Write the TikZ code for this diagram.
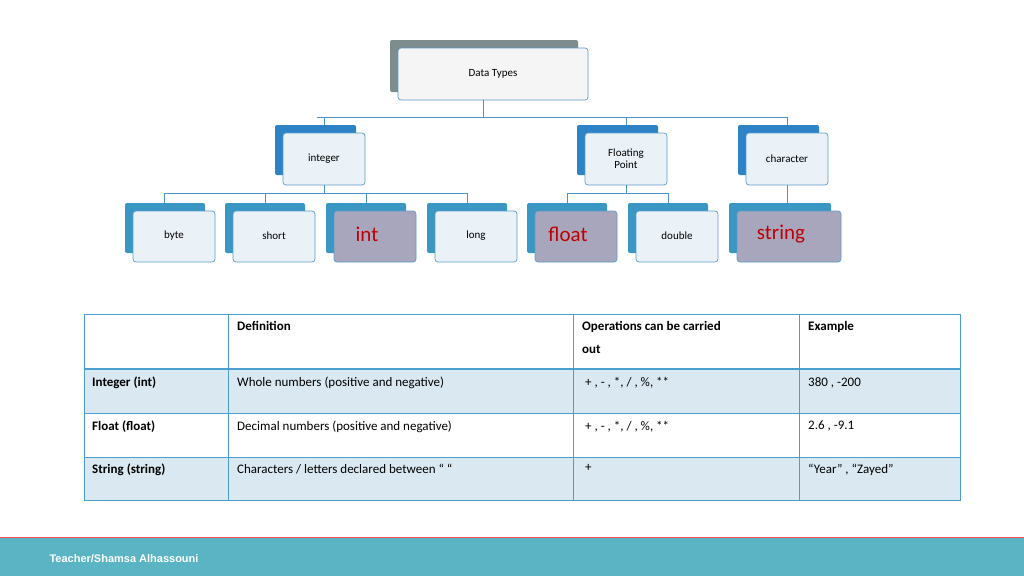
\documentclass[tikz,border=0pt]{standalone}
\usepackage{fontspec}
\setmainfont{Carlito}
\newfontfamily\footfont{Liberation Sans}
\definecolor{bk}{HTML}{2E83C6}
\definecolor{bk3}{HTML}{3A96C2}
\definecolor{fr}{HTML}{EAF2F8}
\definecolor{frb}{HTML}{5A9CC8}
\definecolor{hl}{HTML}{A8A6BC}
\definecolor{tb}{HTML}{4A9FD0}
\definecolor{rowb}{HTML}{DAE9F1}
\definecolor{ft}{HTML}{5AB4C4}
\definecolor{ln}{HTML}{4A92C8}
\begin{document}
\begin{tikzpicture}[x=1pt,y=-1pt,
  back/.style={fill=#1,rounded corners=2pt},
  front/.style={fill=fr,draw=frb,rounded corners=3pt,line width=0.7pt},
  hfront/.style={fill=hl,draw=frb,rounded corners=3pt,line width=0.7pt},
  lbl/.style={font=\fontsize{11}{12}\selectfont,align=center},
  big/.style={font=\fontsize{21}{22}\selectfont,text=red!75!black},
  conn/.style={draw=ln,line width=0.8pt},
  cell/.style={anchor=north west,font=\fontsize{13}{15}\selectfont,align=left,inner sep=0pt}]
\useasboundingbox (0,0) rectangle (1024,576);
% root
\fill[back=gray!60!teal!50!black!60] (390,40) rectangle (578,92);
\draw[front,fill=gray!8] (398,48) rectangle (588,100);
\node[lbl] (root) at (493,74) {Data Types};
% level 2
\foreach \n/\x/\t in {integ/275/integer,flt/577/{Floating\\Point},chr/738/character}{
  \fill[back=bk] (\x,125) rectangle ++(81,50);
  \draw[front] (\x+8,133) rectangle ++(82,52);
  \node[lbl] (\n) at (\x+49,159) {\t};
}
% level 3
\foreach \n/\x/\t in {byte/125/byte,short/225/short,long/427/long,double/628/double}{
  \fill[back=bk3] (\x,203) rectangle ++(80,50);
  \draw[front] (\x+8,211) rectangle ++(82,51);
  \node[lbl] (\n) at (\x+49,236) {\t};
}
\foreach \n/\x/\t/\w in {int/326/int/82,float/527/float/82,string/729/string/104}{
  \fill[back=bk3] (\x,203) rectangle ++(\w-2,50);
  \draw[hfront] (\x+8,211) rectangle ++(\w,51);
  \node[big] (\n) at (\x+8+\w/2-8,234) {\t};
}
% connectors
\draw[conn] (483,100) -- (483,117) (317,117) -- (787,117)
  (324,117) -- (324,125) (626,117) -- (626,125) (787,117) -- (787,125);
\draw[conn] (324,185) -- (324,193) (164,193) -- (467,193)
  \foreach \x in {164,265,366,467}{(\x,193) -- (\x,203)};
\draw[conn] (626,185) -- (626,193) (567,193) -- (668,193)
  (567,193) -- (567,203) (668,193) -- (668,203);
\draw[conn] (787,185) -- (787,203);
% table
\fill[rowb] (84,369) rectangle (960,413);
\fill[rowb] (84,457) rectangle (960,500);
\draw[tb,line width=0.8pt] (84,314) rectangle (960,500);
\draw[tb,line width=1.2pt] (84,369) -- (960,369);
\draw[tb,line width=0.8pt] (84,413) -- (960,413) (84,457) -- (960,457)
  (228,314) -- (228,500) (573,314) -- (573,500) (799,314) -- (799,500);
\node[cell,font=\fontsize{13}{17}\selectfont\bfseries] (h1) at (237,321) {Definition};
\node[cell,font=\fontsize{13}{23}\selectfont\bfseries] (h2) at (582,321) {Operations can be carried\\out};
\node[cell,font=\fontsize{13}{17}\selectfont\bfseries] (h3) at (808,321) {Example};
\node[cell,font=\fontsize{13}{15}\selectfont\bfseries] (r1) at (92,377) {Integer (int)};
\node[cell] (r1a) at (237,377) {Whole numbers (positive and negative)};
\node[cell] (r1b) at (585,377) {+ , - , *, / , \%, **};
\node[cell] (r1c) at (808,377) {380 , -200};
\node[cell,font=\fontsize{13}{15}\selectfont\bfseries] (r2) at (92,421) {Float (float)};
\node[cell] (r2a) at (237,421) {Decimal numbers (positive and negative)};
\node[cell] (r2b) at (585,421) {+ , - , *, / , \%, **};
\node[cell] (r2c) at (808,421) {2.6 , -9.1};
\node[cell,font=\fontsize{13}{15}\selectfont\bfseries] (r3) at (92,464) {String (string)};
\node[cell] (r3a) at (237,464) {Characters / letters declared between “ “};
\node[cell] (r3b) at (585,464) {+};
\node[cell] (r3c) at (808,464) {“Year” , “Zayed”};
% footer
\fill[ft] (0,537) rectangle (1024,576);
\draw[red!70,line width=0.6pt] (0,537) -- (1024,537);
\node[anchor=west,text=white,font=\footfont\bfseries\fontsize{11}{12}\selectfont] (foot) at (46,559) {Teacher/Shamsa Alhassouni};
\end{tikzpicture}
\end{document}
